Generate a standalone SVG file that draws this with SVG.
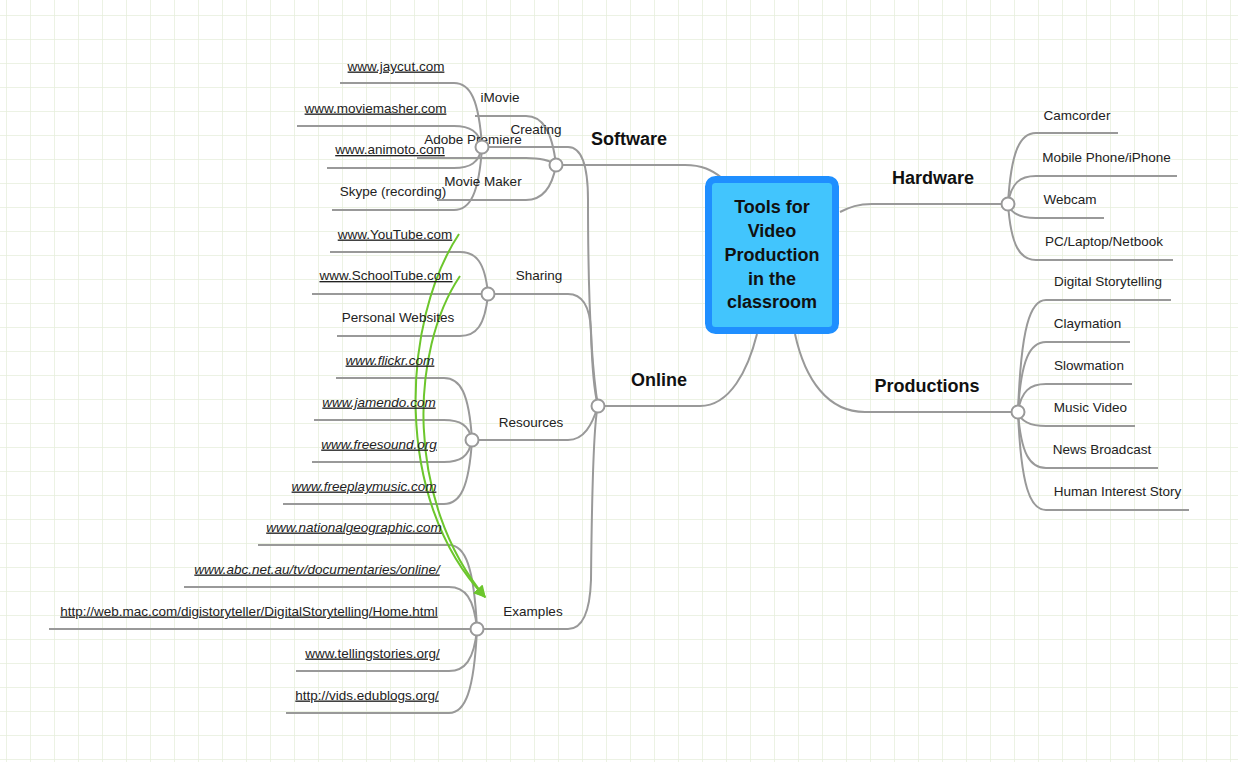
<svg xmlns="http://www.w3.org/2000/svg" width="1238" height="762" viewBox="0 0 1238 762">
<style>
.c{fill:none;stroke:#999;stroke-width:2}
.k{fill:#fff;stroke:#999;stroke-width:2}
.t{font-family:"Liberation Sans",Arial,sans-serif;font-size:13.5px;fill:#222;text-anchor:middle}
.u{text-decoration:underline}
.i{font-style:italic}
.b{font-family:"Liberation Sans",Arial,sans-serif;font-size:18px;font-weight:bold;fill:#111;text-anchor:middle}
.g{fill:none;stroke:#6cc62c;stroke-width:2}
</style>
<defs>
<pattern id="grid" x="6" y="15" width="24" height="24" patternUnits="userSpaceOnUse">
<path d="M0 0 H24 M0 0 V24" fill="none" stroke="#e6eedb" stroke-width="1.5"/>
</pattern>
<marker id="ah" viewBox="0 0 10 10" refX="9" refY="5" markerWidth="6" markerHeight="6" orient="auto">
<path d="M0 0 L10 5 L0 10 Z" fill="#6cc62c"/>
</marker>
</defs>
<rect width="1238" height="762" fill="#fff"/>
<rect width="1238" height="762" fill="url(#grid)"/>
<g id="connectors">
<path class="c" d="M 556 165 H 685 C 702 165, 712 170, 722 178"/>
<path class="c" d="M 598 406 H 700 C 730 406, 748 370, 757 334"/>
<path class="c" d="M 840 212 C 850 207, 858 204, 872 204 H 1008"/>
<path class="c" d="M 795 334 C 805 380, 828 412, 865 412 H 1018"/>
<path class="c" d="M 475 116 H 526 C 542 116, 552 130, 556 165"/>
<path class="c" d="M 417 158 H 526 C 542 158, 551 161, 556 165"/>
<path class="c" d="M 437 200 H 526 C 542 200, 552 188, 556 165"/>
<path class="c" d="M 482 147 H 568 C 582 147, 588 165, 588 200 C 588 300, 592 370, 598 406"/>
<path class="c" d="M 488 294 H 568 C 584 294, 590 310, 591 330 C 592 370, 595 395, 598 406"/>
<path class="c" d="M 472 440 H 568 C 584 440, 592 425, 598 406"/>
<path class="c" d="M 477 629 H 568 C 584 629, 590 610, 591 580 C 592 480, 594 420, 598 406"/>
<path class="c" d="M 340 83 H 454 C 470 83, 479 99, 482 147"/>
<path class="c" d="M 297 126 H 454 C 470 126, 479 131, 482 147"/>
<path class="c" d="M 327 168 H 454 C 470 168, 479 163, 482 147"/>
<path class="c" d="M 332 210 H 454 C 470 210, 479 194, 482 147"/>
<path class="c" d="M 330 252 H 460 C 476 252, 485 262, 488 294"/>
<path class="c" d="M 312 294 H 488"/>
<path class="c" d="M 337 336 H 460 C 476 336, 485 326, 488 294"/>
<path class="c" d="M 336 378 H 444 C 460 378, 469 392, 472 440"/>
<path class="c" d="M 314 420 H 444 C 460 420, 469 425, 472 440"/>
<path class="c" d="M 312 462 H 444 C 460 462, 469 457, 472 440"/>
<path class="c" d="M 283 504 H 444 C 460 504, 469 488, 472 440"/>
<path class="c" d="M 258 545 H 449 C 465 545, 474 566, 477 629"/>
<path class="c" d="M 184 587 H 449 C 465 587, 474 598, 477 629"/>
<path class="c" d="M 49 629 H 477"/>
<path class="c" d="M 296 671 H 449 C 465 671, 474 660, 477 629"/>
<path class="c" d="M 286 713 H 449 C 465 713, 474 692, 477 629"/>
<path class="c" d="M 1118 133 H 1036 C 1020 133, 1011 151, 1008 204"/>
<path class="c" d="M 1177 176 H 1036 C 1020 176, 1011 183, 1008 204"/>
<path class="c" d="M 1104 218 H 1036 C 1020 218, 1011 214, 1008 204"/>
<path class="c" d="M 1173 260 H 1036 C 1020 260, 1011 246, 1008 204"/>
<path class="c" d="M 1171 300 H 1046 C 1030 300, 1021 328, 1018 412"/>
<path class="c" d="M 1130 342 H 1046 C 1030 342, 1021 359, 1018 412"/>
<path class="c" d="M 1132 384 H 1046 C 1030 384, 1021 391, 1018 412"/>
<path class="c" d="M 1135 426 H 1046 C 1030 426, 1021 422, 1018 412"/>
<path class="c" d="M 1158 468 H 1046 C 1030 468, 1021 454, 1018 412"/>
<path class="c" d="M 1189 510 H 1046 C 1030 510, 1021 486, 1018 412"/>
<path class="g" d="M 459 234 C 402 320, 392 500, 485 597" marker-end="url(#ah)"/>
<path class="g" d="M 460 276 C 410 350, 405 500, 485 597" marker-end="url(#ah)"/>
</g>
<g id="central">
<rect x="708.5" y="179.5" width="127" height="151" rx="7" fill="#42c5fd" stroke="#1f8fff" stroke-width="7"/>
<text class="b" x="772" y="213">Tools for</text>
<text class="b" x="772" y="237">Video</text>
<text class="b" x="772" y="261">Production</text>
<text class="b" x="772" y="285">in the</text>
<text class="b" x="772" y="308">classroom</text>
</g>
<g id="software"><text class="b" x="629" y="145">Software</text><circle class="k" cx="556" cy="165" r="6.5"/></g>
<g id="online"><text class="b" x="659" y="386">Online</text><circle class="k" cx="598" cy="406" r="6.5"/></g>
<g id="hardware"><text class="b" x="933" y="184">Hardware</text><circle class="k" cx="1008" cy="204" r="6.5"/></g>
<g id="productions"><text class="b" x="927" y="392">Productions</text><circle class="k" cx="1018" cy="412" r="6.5"/></g>
<g id="imovie"><text class="t" x="500" y="102">iMovie</text></g>
<g id="adobe"><text class="t" x="473" y="144">Adobe Premiere</text></g>
<g id="moviemaker"><text class="t" x="483" y="186">Movie Maker</text></g>
<g id="creating"><text class="t" x="536" y="133.5">Creating</text><circle class="k" cx="482" cy="147" r="6.5"/></g>
<g id="jaycut"><text class="t u" x="396" y="70.5">www.jaycut.com</text></g>
<g id="moviemasher"><text class="t u" x="375.5" y="112.5">www.moviemasher.com</text></g>
<g id="animoto"><text class="t u" x="390" y="154">www.animoto.com</text></g>
<g id="skype"><text class="t" x="393" y="196">Skype (recording)</text></g>
<g id="sharing"><text class="t" x="539" y="280">Sharing</text><circle class="k" cx="488" cy="294" r="6.5"/></g>
<g id="youtube"><text class="t u" x="395" y="238.5">www.YouTube.com</text></g>
<g id="schooltube"><text class="t u" x="386" y="280">www.SchoolTube.com</text></g>
<g id="personal"><text class="t" x="398" y="322">Personal Websites</text></g>
<g id="resources"><text class="t" x="531" y="427">Resources</text><circle class="k" cx="472" cy="440" r="6.5"/></g>
<g id="flickr"><text class="t u i" x="390" y="364.5">www.flickr.com</text></g>
<g id="jamendo"><text class="t u i" x="379" y="406.5">www.jamendo.com</text></g>
<g id="freesound"><text class="t u i" x="379" y="448.5">www.freesound.org</text></g>
<g id="freeplay"><text class="t u i" x="364" y="490.5">www.freeplaymusic.com</text></g>
<g id="examples"><text class="t" x="533" y="615.5">Examples</text><circle class="k" cx="477" cy="629" r="6.5"/></g>
<g id="natgeo"><text class="t u i" x="354" y="531.5">www.nationalgeographic.com</text></g>
<g id="abc"><text class="t u i" x="317" y="573.5">www.abc.net.au/tv/documentaries/online/</text></g>
<g id="webmac"><text class="t u" x="249" y="615.5">http://web.mac.com/digistoryteller/DigitalStorytelling/Home.html</text></g>
<g id="telling"><text class="t u" x="372.5" y="657.5">www.tellingstories.org/</text></g>
<g id="vids"><text class="t u" x="367" y="699.5">http://vids.edublogs.org/</text></g>
<g id="camcorder"><text class="t" x="1077" y="119.5">Camcorder</text></g>
<g id="mobile"><text class="t" x="1106.5" y="162">Mobile Phone/iPhone</text></g>
<g id="webcam"><text class="t" x="1070" y="204">Webcam</text></g>
<g id="pc"><text class="t" x="1104" y="246">PC/Laptop/Netbook</text></g>
<g id="digital"><text class="t" x="1108" y="286">Digital Storytelling</text></g>
<g id="claymation"><text class="t" x="1087.5" y="328">Claymation</text></g>
<g id="slowmation"><text class="t" x="1089" y="370">Slowmation</text></g>
<g id="musicvideo"><text class="t" x="1090.5" y="411.5">Music Video</text></g>
<g id="news"><text class="t" x="1102" y="454">News Broadcast</text></g>
<g id="human"><text class="t" x="1117.5" y="495.5">Human Interest Story</text></g>
</svg>
